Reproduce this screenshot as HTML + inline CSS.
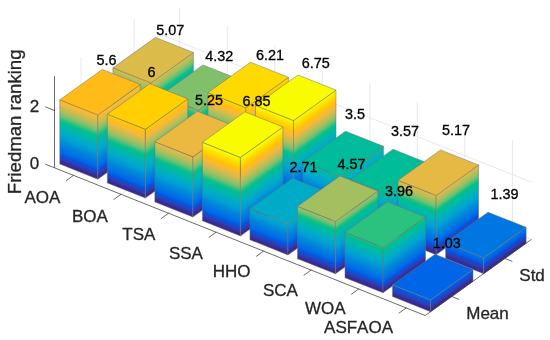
<!DOCTYPE html>
<html><head><meta charset="utf-8"><title>Friedman ranking</title>
<style>html,body{margin:0;padding:0;background:#fff}svg{display:block}text{font-family:'Liberation Sans',Arial,sans-serif;stroke-width:0.3px;font-kerning:none}</style></head>
<body><svg width="550" height="340" viewBox="0 0 550 340">
<defs><linearGradient id="g1" gradientUnits="userSpaceOnUse" x1="112.91" y1="125.95" x2="132.89" y2="75.80"><stop offset="0.0000" stop-color="#36288b"/><stop offset="0.0400" stop-color="#362b92"/><stop offset="0.0800" stop-color="#3338ab"/><stop offset="0.1200" stop-color="#2246c5"/><stop offset="0.1600" stop-color="#0056de"/><stop offset="0.2000" stop-color="#0066e7"/><stop offset="0.2400" stop-color="#006fe6"/><stop offset="0.2800" stop-color="#0077e2"/><stop offset="0.3200" stop-color="#007fdd"/><stop offset="0.3600" stop-color="#0087d9"/><stop offset="0.4000" stop-color="#0090d7"/><stop offset="0.4400" stop-color="#009ad5"/><stop offset="0.4800" stop-color="#00a2d1"/><stop offset="0.5200" stop-color="#00a9ca"/><stop offset="0.5600" stop-color="#00aec1"/><stop offset="0.6000" stop-color="#00b3b7"/><stop offset="0.6400" stop-color="#00b7ac"/><stop offset="0.6800" stop-color="#00bb9f"/><stop offset="0.7200" stop-color="#00be92"/><stop offset="0.7600" stop-color="#17c085"/><stop offset="0.8000" stop-color="#4fc179"/><stop offset="0.8400" stop-color="#77c16e"/><stop offset="0.8800" stop-color="#96c064"/><stop offset="0.9200" stop-color="#afbe5b"/><stop offset="0.9600" stop-color="#c6bd52"/><stop offset="1.0000" stop-color="#dbbb49"/></linearGradient>
<linearGradient id="g2" gradientUnits="userSpaceOnUse" x1="150.93" y1="141.10" x2="123.42" y2="102.71"><stop offset="0.0000" stop-color="#36288b"/><stop offset="0.0400" stop-color="#362b92"/><stop offset="0.0800" stop-color="#3338ab"/><stop offset="0.1200" stop-color="#2246c5"/><stop offset="0.1600" stop-color="#0056de"/><stop offset="0.2000" stop-color="#0066e7"/><stop offset="0.2400" stop-color="#006fe6"/><stop offset="0.2800" stop-color="#0077e2"/><stop offset="0.3200" stop-color="#007fdd"/><stop offset="0.3600" stop-color="#0087d9"/><stop offset="0.4000" stop-color="#0090d7"/><stop offset="0.4400" stop-color="#009ad5"/><stop offset="0.4800" stop-color="#00a2d1"/><stop offset="0.5200" stop-color="#00a9ca"/><stop offset="0.5600" stop-color="#00aec1"/><stop offset="0.6000" stop-color="#00b3b7"/><stop offset="0.6400" stop-color="#00b7ac"/><stop offset="0.6800" stop-color="#00bb9f"/><stop offset="0.7200" stop-color="#00be92"/><stop offset="0.7600" stop-color="#17c085"/><stop offset="0.8000" stop-color="#4fc179"/><stop offset="0.8400" stop-color="#77c16e"/><stop offset="0.8800" stop-color="#96c064"/><stop offset="0.9200" stop-color="#afbe5b"/><stop offset="0.9600" stop-color="#c6bd52"/><stop offset="1.0000" stop-color="#dbbb49"/></linearGradient>
<linearGradient id="g3" gradientUnits="userSpaceOnUse" x1="160.44" y1="144.89" x2="177.46" y2="102.16"><stop offset="0.0000" stop-color="#36288b"/><stop offset="0.0476" stop-color="#362b92"/><stop offset="0.0952" stop-color="#3338ac"/><stop offset="0.1429" stop-color="#2046c6"/><stop offset="0.1905" stop-color="#0057df"/><stop offset="0.2381" stop-color="#0066e7"/><stop offset="0.2857" stop-color="#0070e5"/><stop offset="0.3333" stop-color="#0078e1"/><stop offset="0.3810" stop-color="#0080dc"/><stop offset="0.4286" stop-color="#0088d9"/><stop offset="0.4762" stop-color="#0092d7"/><stop offset="0.5238" stop-color="#009cd5"/><stop offset="0.5714" stop-color="#00a4d0"/><stop offset="0.6190" stop-color="#00aac8"/><stop offset="0.6667" stop-color="#00afbf"/><stop offset="0.7143" stop-color="#00b4b4"/><stop offset="0.7619" stop-color="#00b8a9"/><stop offset="0.8095" stop-color="#00bc9c"/><stop offset="0.8571" stop-color="#00bf8f"/><stop offset="0.9048" stop-color="#1fc081"/><stop offset="0.9524" stop-color="#5dc175"/><stop offset="1.0000" stop-color="#81c06b"/></linearGradient>
<linearGradient id="g4" gradientUnits="userSpaceOnUse" x1="198.46" y1="160.04" x2="175.02" y2="127.33"><stop offset="0.0000" stop-color="#36288b"/><stop offset="0.0476" stop-color="#362b92"/><stop offset="0.0952" stop-color="#3338ac"/><stop offset="0.1429" stop-color="#2046c6"/><stop offset="0.1905" stop-color="#0057df"/><stop offset="0.2381" stop-color="#0066e7"/><stop offset="0.2857" stop-color="#0070e5"/><stop offset="0.3333" stop-color="#0078e1"/><stop offset="0.3810" stop-color="#0080dc"/><stop offset="0.4286" stop-color="#0088d9"/><stop offset="0.4762" stop-color="#0092d7"/><stop offset="0.5238" stop-color="#009cd5"/><stop offset="0.5714" stop-color="#00a4d0"/><stop offset="0.6190" stop-color="#00aac8"/><stop offset="0.6667" stop-color="#00afbf"/><stop offset="0.7143" stop-color="#00b4b4"/><stop offset="0.7619" stop-color="#00b8a9"/><stop offset="0.8095" stop-color="#00bc9c"/><stop offset="0.8571" stop-color="#00bf8f"/><stop offset="0.9048" stop-color="#1fc081"/><stop offset="0.9524" stop-color="#5dc175"/><stop offset="1.0000" stop-color="#81c06b"/></linearGradient>
<linearGradient id="g5" gradientUnits="userSpaceOnUse" x1="207.97" y1="163.83" x2="232.44" y2="102.41"><stop offset="0.0000" stop-color="#36288b"/><stop offset="0.0323" stop-color="#362b92"/><stop offset="0.0645" stop-color="#3338ab"/><stop offset="0.0968" stop-color="#2345c4"/><stop offset="0.1290" stop-color="#0055dd"/><stop offset="0.1613" stop-color="#0065e7"/><stop offset="0.1935" stop-color="#006fe6"/><stop offset="0.2258" stop-color="#0077e2"/><stop offset="0.2581" stop-color="#007edd"/><stop offset="0.2903" stop-color="#0086d9"/><stop offset="0.3226" stop-color="#008fd7"/><stop offset="0.3548" stop-color="#0099d6"/><stop offset="0.3871" stop-color="#00a1d2"/><stop offset="0.4194" stop-color="#00a8cb"/><stop offset="0.4516" stop-color="#00adc2"/><stop offset="0.4839" stop-color="#00b2b9"/><stop offset="0.5161" stop-color="#00b6ae"/><stop offset="0.5484" stop-color="#00baa2"/><stop offset="0.5806" stop-color="#00bd95"/><stop offset="0.6129" stop-color="#0fc088"/><stop offset="0.6452" stop-color="#41c17b"/><stop offset="0.6774" stop-color="#6fc171"/><stop offset="0.7097" stop-color="#8ec067"/><stop offset="0.7419" stop-color="#a8bf5e"/><stop offset="0.7742" stop-color="#bfbd55"/><stop offset="0.8065" stop-color="#d5bb4c"/><stop offset="0.8387" stop-color="#e8ba42"/><stop offset="0.8710" stop-color="#fbb935"/><stop offset="0.9032" stop-color="#ffbb18"/><stop offset="0.9355" stop-color="#ffc50b"/><stop offset="0.9677" stop-color="#ffcf00"/><stop offset="1.0000" stop-color="#feda00"/></linearGradient>
<linearGradient id="g6" gradientUnits="userSpaceOnUse" x1="245.99" y1="178.98" x2="212.30" y2="131.96"><stop offset="0.0000" stop-color="#36288b"/><stop offset="0.0323" stop-color="#362b92"/><stop offset="0.0645" stop-color="#3338ab"/><stop offset="0.0968" stop-color="#2345c4"/><stop offset="0.1290" stop-color="#0055dd"/><stop offset="0.1613" stop-color="#0065e7"/><stop offset="0.1935" stop-color="#006fe6"/><stop offset="0.2258" stop-color="#0077e2"/><stop offset="0.2581" stop-color="#007edd"/><stop offset="0.2903" stop-color="#0086d9"/><stop offset="0.3226" stop-color="#008fd7"/><stop offset="0.3548" stop-color="#0099d6"/><stop offset="0.3871" stop-color="#00a1d2"/><stop offset="0.4194" stop-color="#00a8cb"/><stop offset="0.4516" stop-color="#00adc2"/><stop offset="0.4839" stop-color="#00b2b9"/><stop offset="0.5161" stop-color="#00b6ae"/><stop offset="0.5484" stop-color="#00baa2"/><stop offset="0.5806" stop-color="#00bd95"/><stop offset="0.6129" stop-color="#0fc088"/><stop offset="0.6452" stop-color="#41c17b"/><stop offset="0.6774" stop-color="#6fc171"/><stop offset="0.7097" stop-color="#8ec067"/><stop offset="0.7419" stop-color="#a8bf5e"/><stop offset="0.7742" stop-color="#bfbd55"/><stop offset="0.8065" stop-color="#d5bb4c"/><stop offset="0.8387" stop-color="#e8ba42"/><stop offset="0.8710" stop-color="#fbb935"/><stop offset="0.9032" stop-color="#ffbb18"/><stop offset="0.9355" stop-color="#ffc50b"/><stop offset="0.9677" stop-color="#ffcf00"/><stop offset="1.0000" stop-color="#feda00"/></linearGradient>
<linearGradient id="g7" gradientUnits="userSpaceOnUse" x1="255.50" y1="182.77" x2="282.10" y2="116.01"><stop offset="0.0000" stop-color="#36288b"/><stop offset="0.0303" stop-color="#362b92"/><stop offset="0.0606" stop-color="#3338ac"/><stop offset="0.0909" stop-color="#2146c6"/><stop offset="0.1212" stop-color="#0057de"/><stop offset="0.1515" stop-color="#0066e7"/><stop offset="0.1818" stop-color="#0070e5"/><stop offset="0.2121" stop-color="#0078e1"/><stop offset="0.2424" stop-color="#007fdd"/><stop offset="0.2727" stop-color="#0088d9"/><stop offset="0.3030" stop-color="#0091d7"/><stop offset="0.3333" stop-color="#009bd5"/><stop offset="0.3636" stop-color="#00a3d0"/><stop offset="0.3939" stop-color="#00a9c9"/><stop offset="0.4242" stop-color="#00afc0"/><stop offset="0.4545" stop-color="#00b3b5"/><stop offset="0.4848" stop-color="#00b7aa"/><stop offset="0.5152" stop-color="#00bb9d"/><stop offset="0.5455" stop-color="#00be90"/><stop offset="0.5758" stop-color="#1cc083"/><stop offset="0.6061" stop-color="#57c177"/><stop offset="0.6364" stop-color="#7dc06c"/><stop offset="0.6667" stop-color="#9bbf63"/><stop offset="0.6970" stop-color="#b4be5a"/><stop offset="0.7273" stop-color="#cabc51"/><stop offset="0.7576" stop-color="#dfba47"/><stop offset="0.7879" stop-color="#f3b93b"/><stop offset="0.8182" stop-color="#ffb929"/><stop offset="0.8485" stop-color="#ffc011"/><stop offset="0.8788" stop-color="#ffcb00"/><stop offset="0.9091" stop-color="#ffd600"/><stop offset="0.9394" stop-color="#fbe100"/><stop offset="0.9697" stop-color="#f8ef00"/><stop offset="1.0000" stop-color="#f9fb00"/></linearGradient>
<linearGradient id="g8" gradientUnits="userSpaceOnUse" x1="293.52" y1="197.92" x2="256.90" y2="146.81"><stop offset="0.0000" stop-color="#36288b"/><stop offset="0.0303" stop-color="#362b92"/><stop offset="0.0606" stop-color="#3338ac"/><stop offset="0.0909" stop-color="#2146c6"/><stop offset="0.1212" stop-color="#0057de"/><stop offset="0.1515" stop-color="#0066e7"/><stop offset="0.1818" stop-color="#0070e5"/><stop offset="0.2121" stop-color="#0078e1"/><stop offset="0.2424" stop-color="#007fdd"/><stop offset="0.2727" stop-color="#0088d9"/><stop offset="0.3030" stop-color="#0091d7"/><stop offset="0.3333" stop-color="#009bd5"/><stop offset="0.3636" stop-color="#00a3d0"/><stop offset="0.3939" stop-color="#00a9c9"/><stop offset="0.4242" stop-color="#00afc0"/><stop offset="0.4545" stop-color="#00b3b5"/><stop offset="0.4848" stop-color="#00b7aa"/><stop offset="0.5152" stop-color="#00bb9d"/><stop offset="0.5455" stop-color="#00be90"/><stop offset="0.5758" stop-color="#1cc083"/><stop offset="0.6061" stop-color="#57c177"/><stop offset="0.6364" stop-color="#7dc06c"/><stop offset="0.6667" stop-color="#9bbf63"/><stop offset="0.6970" stop-color="#b4be5a"/><stop offset="0.7273" stop-color="#cabc51"/><stop offset="0.7576" stop-color="#dfba47"/><stop offset="0.7879" stop-color="#f3b93b"/><stop offset="0.8182" stop-color="#ffb929"/><stop offset="0.8485" stop-color="#ffc011"/><stop offset="0.8788" stop-color="#ffcb00"/><stop offset="0.9091" stop-color="#ffd600"/><stop offset="0.9394" stop-color="#fbe100"/><stop offset="0.9697" stop-color="#f8ef00"/><stop offset="1.0000" stop-color="#f9fb00"/></linearGradient>
<linearGradient id="g9" gradientUnits="userSpaceOnUse" x1="303.03" y1="201.71" x2="316.82" y2="167.09"><stop offset="0.0000" stop-color="#36288b"/><stop offset="0.0588" stop-color="#362b92"/><stop offset="0.1176" stop-color="#3238ac"/><stop offset="0.1765" stop-color="#2047c6"/><stop offset="0.2353" stop-color="#0058df"/><stop offset="0.2941" stop-color="#0066e7"/><stop offset="0.3529" stop-color="#0070e5"/><stop offset="0.4118" stop-color="#0078e1"/><stop offset="0.4706" stop-color="#0080dc"/><stop offset="0.5294" stop-color="#0088d9"/><stop offset="0.5882" stop-color="#0092d7"/><stop offset="0.6471" stop-color="#009cd5"/><stop offset="0.7059" stop-color="#00a4d0"/><stop offset="0.7647" stop-color="#00aac8"/><stop offset="0.8235" stop-color="#00afbf"/><stop offset="0.8824" stop-color="#00b4b4"/><stop offset="0.9412" stop-color="#00b8a9"/><stop offset="1.0000" stop-color="#00bc9c"/></linearGradient>
<linearGradient id="g10" gradientUnits="userSpaceOnUse" x1="341.05" y1="216.86" x2="322.06" y2="190.36"><stop offset="0.0000" stop-color="#36288b"/><stop offset="0.0588" stop-color="#362b92"/><stop offset="0.1176" stop-color="#3238ac"/><stop offset="0.1765" stop-color="#2047c6"/><stop offset="0.2353" stop-color="#0058df"/><stop offset="0.2941" stop-color="#0066e7"/><stop offset="0.3529" stop-color="#0070e5"/><stop offset="0.4118" stop-color="#0078e1"/><stop offset="0.4706" stop-color="#0080dc"/><stop offset="0.5294" stop-color="#0088d9"/><stop offset="0.5882" stop-color="#0092d7"/><stop offset="0.6471" stop-color="#009cd5"/><stop offset="0.7059" stop-color="#00a4d0"/><stop offset="0.7647" stop-color="#00aac8"/><stop offset="0.8235" stop-color="#00afbf"/><stop offset="0.8824" stop-color="#00b4b4"/><stop offset="0.9412" stop-color="#00b8a9"/><stop offset="1.0000" stop-color="#00bc9c"/></linearGradient>
<linearGradient id="g11" gradientUnits="userSpaceOnUse" x1="350.56" y1="220.65" x2="364.63" y2="185.34"><stop offset="0.0000" stop-color="#36288b"/><stop offset="0.0588" stop-color="#362c93"/><stop offset="0.1176" stop-color="#3239ad"/><stop offset="0.1765" stop-color="#1e47c8"/><stop offset="0.2353" stop-color="#0059e0"/><stop offset="0.2941" stop-color="#0067e7"/><stop offset="0.3529" stop-color="#0071e5"/><stop offset="0.4118" stop-color="#0079e1"/><stop offset="0.4706" stop-color="#0081dc"/><stop offset="0.5294" stop-color="#008ad8"/><stop offset="0.5882" stop-color="#0094d6"/><stop offset="0.6471" stop-color="#009ed4"/><stop offset="0.7059" stop-color="#00a5ce"/><stop offset="0.7647" stop-color="#00abc6"/><stop offset="0.8235" stop-color="#00b0bc"/><stop offset="0.8824" stop-color="#00b5b1"/><stop offset="0.9412" stop-color="#00b9a5"/><stop offset="1.0000" stop-color="#00bd97"/></linearGradient>
<linearGradient id="g12" gradientUnits="userSpaceOnUse" x1="388.58" y1="235.80" x2="369.21" y2="208.77"><stop offset="0.0000" stop-color="#36288b"/><stop offset="0.0588" stop-color="#362c93"/><stop offset="0.1176" stop-color="#3239ad"/><stop offset="0.1765" stop-color="#1e47c8"/><stop offset="0.2353" stop-color="#0059e0"/><stop offset="0.2941" stop-color="#0067e7"/><stop offset="0.3529" stop-color="#0071e5"/><stop offset="0.4118" stop-color="#0079e1"/><stop offset="0.4706" stop-color="#0081dc"/><stop offset="0.5294" stop-color="#008ad8"/><stop offset="0.5882" stop-color="#0094d6"/><stop offset="0.6471" stop-color="#009ed4"/><stop offset="0.7059" stop-color="#00a5ce"/><stop offset="0.7647" stop-color="#00abc6"/><stop offset="0.8235" stop-color="#00b0bc"/><stop offset="0.8824" stop-color="#00b5b1"/><stop offset="0.9412" stop-color="#00b9a5"/><stop offset="1.0000" stop-color="#00bd97"/></linearGradient>
<linearGradient id="g13" gradientUnits="userSpaceOnUse" x1="398.09" y1="239.59" x2="418.46" y2="188.46"><stop offset="0.0000" stop-color="#36288b"/><stop offset="0.0400" stop-color="#362b92"/><stop offset="0.0800" stop-color="#3239ac"/><stop offset="0.1200" stop-color="#1f47c7"/><stop offset="0.1600" stop-color="#0058df"/><stop offset="0.2000" stop-color="#0067e7"/><stop offset="0.2400" stop-color="#0070e5"/><stop offset="0.2800" stop-color="#0078e1"/><stop offset="0.3200" stop-color="#0080dc"/><stop offset="0.3600" stop-color="#0088d8"/><stop offset="0.4000" stop-color="#0092d7"/><stop offset="0.4400" stop-color="#009cd5"/><stop offset="0.4800" stop-color="#00a4cf"/><stop offset="0.5200" stop-color="#00aac7"/><stop offset="0.5600" stop-color="#00afbe"/><stop offset="0.6000" stop-color="#00b4b4"/><stop offset="0.6400" stop-color="#00b8a8"/><stop offset="0.6800" stop-color="#00bc9b"/><stop offset="0.7200" stop-color="#00bf8d"/><stop offset="0.7600" stop-color="#22c080"/><stop offset="0.8000" stop-color="#61c174"/><stop offset="0.8400" stop-color="#85c06a"/><stop offset="0.8800" stop-color="#a1bf60"/><stop offset="0.9200" stop-color="#babe57"/><stop offset="0.9600" stop-color="#d0bc4e"/><stop offset="1.0000" stop-color="#e5ba44"/></linearGradient>
<linearGradient id="g14" gradientUnits="userSpaceOnUse" x1="436.11" y1="254.74" x2="408.06" y2="215.59"><stop offset="0.0000" stop-color="#36288b"/><stop offset="0.0400" stop-color="#362b92"/><stop offset="0.0800" stop-color="#3239ac"/><stop offset="0.1200" stop-color="#1f47c7"/><stop offset="0.1600" stop-color="#0058df"/><stop offset="0.2000" stop-color="#0067e7"/><stop offset="0.2400" stop-color="#0070e5"/><stop offset="0.2800" stop-color="#0078e1"/><stop offset="0.3200" stop-color="#0080dc"/><stop offset="0.3600" stop-color="#0088d8"/><stop offset="0.4000" stop-color="#0092d7"/><stop offset="0.4400" stop-color="#009cd5"/><stop offset="0.4800" stop-color="#00a4cf"/><stop offset="0.5200" stop-color="#00aac7"/><stop offset="0.5600" stop-color="#00afbe"/><stop offset="0.6000" stop-color="#00b4b4"/><stop offset="0.6400" stop-color="#00b8a8"/><stop offset="0.6800" stop-color="#00bc9b"/><stop offset="0.7200" stop-color="#00bf8d"/><stop offset="0.7600" stop-color="#22c080"/><stop offset="0.8000" stop-color="#61c174"/><stop offset="0.8400" stop-color="#85c06a"/><stop offset="0.8800" stop-color="#a1bf60"/><stop offset="0.9200" stop-color="#babe57"/><stop offset="0.9600" stop-color="#d0bc4e"/><stop offset="1.0000" stop-color="#e5ba44"/></linearGradient>
<linearGradient id="g15" gradientUnits="userSpaceOnUse" x1="445.62" y1="258.53" x2="451.10" y2="244.78"><stop offset="0.0000" stop-color="#36288b"/><stop offset="0.1667" stop-color="#362d95"/><stop offset="0.3333" stop-color="#303cb2"/><stop offset="0.5000" stop-color="#0d4cd0"/><stop offset="0.6667" stop-color="#0060e5"/><stop offset="0.8333" stop-color="#006de7"/><stop offset="1.0000" stop-color="#0076e2"/></linearGradient>
<linearGradient id="g16" gradientUnits="userSpaceOnUse" x1="483.64" y1="273.68" x2="476.10" y2="263.15"><stop offset="0.0000" stop-color="#36288b"/><stop offset="0.1667" stop-color="#362d95"/><stop offset="0.3333" stop-color="#303cb2"/><stop offset="0.5000" stop-color="#0d4cd0"/><stop offset="0.6667" stop-color="#0060e5"/><stop offset="0.8333" stop-color="#006de7"/><stop offset="1.0000" stop-color="#0076e2"/></linearGradient>
<linearGradient id="g17" gradientUnits="userSpaceOnUse" x1="59.81" y1="164.00" x2="81.88" y2="108.61"><stop offset="0.0000" stop-color="#36288b"/><stop offset="0.0357" stop-color="#362b92"/><stop offset="0.0714" stop-color="#3338aa"/><stop offset="0.1071" stop-color="#2345c4"/><stop offset="0.1429" stop-color="#0055dd"/><stop offset="0.1786" stop-color="#0065e7"/><stop offset="0.2143" stop-color="#006ee6"/><stop offset="0.2500" stop-color="#0077e2"/><stop offset="0.2857" stop-color="#007ede"/><stop offset="0.3214" stop-color="#0086d9"/><stop offset="0.3571" stop-color="#008fd7"/><stop offset="0.3929" stop-color="#0099d6"/><stop offset="0.4286" stop-color="#00a1d2"/><stop offset="0.4643" stop-color="#00a8cb"/><stop offset="0.5000" stop-color="#00adc3"/><stop offset="0.5357" stop-color="#00b2b9"/><stop offset="0.5714" stop-color="#00b6ae"/><stop offset="0.6071" stop-color="#00baa2"/><stop offset="0.6429" stop-color="#00bd95"/><stop offset="0.6786" stop-color="#0dc088"/><stop offset="0.7143" stop-color="#3ec17c"/><stop offset="0.7500" stop-color="#6dc171"/><stop offset="0.7857" stop-color="#8dc067"/><stop offset="0.8214" stop-color="#a7bf5e"/><stop offset="0.8571" stop-color="#bfbd55"/><stop offset="0.8929" stop-color="#d4bb4c"/><stop offset="0.9286" stop-color="#e8ba42"/><stop offset="0.9643" stop-color="#fab936"/><stop offset="1.0000" stop-color="#ffbb18"/></linearGradient>
<linearGradient id="g18" gradientUnits="userSpaceOnUse" x1="97.83" y1="179.15" x2="67.45" y2="136.74"><stop offset="0.0000" stop-color="#36288b"/><stop offset="0.0357" stop-color="#362b92"/><stop offset="0.0714" stop-color="#3338aa"/><stop offset="0.1071" stop-color="#2345c4"/><stop offset="0.1429" stop-color="#0055dd"/><stop offset="0.1786" stop-color="#0065e7"/><stop offset="0.2143" stop-color="#006ee6"/><stop offset="0.2500" stop-color="#0077e2"/><stop offset="0.2857" stop-color="#007ede"/><stop offset="0.3214" stop-color="#0086d9"/><stop offset="0.3571" stop-color="#008fd7"/><stop offset="0.3929" stop-color="#0099d6"/><stop offset="0.4286" stop-color="#00a1d2"/><stop offset="0.4643" stop-color="#00a8cb"/><stop offset="0.5000" stop-color="#00adc3"/><stop offset="0.5357" stop-color="#00b2b9"/><stop offset="0.5714" stop-color="#00b6ae"/><stop offset="0.6071" stop-color="#00baa2"/><stop offset="0.6429" stop-color="#00bd95"/><stop offset="0.6786" stop-color="#0dc088"/><stop offset="0.7143" stop-color="#3ec17c"/><stop offset="0.7500" stop-color="#6dc171"/><stop offset="0.7857" stop-color="#8dc067"/><stop offset="0.8214" stop-color="#a7bf5e"/><stop offset="0.8571" stop-color="#bfbd55"/><stop offset="0.8929" stop-color="#d4bb4c"/><stop offset="0.9286" stop-color="#e8ba42"/><stop offset="0.9643" stop-color="#fab936"/><stop offset="1.0000" stop-color="#ffbb18"/></linearGradient>
<linearGradient id="g19" gradientUnits="userSpaceOnUse" x1="107.34" y1="182.94" x2="130.99" y2="123.60"><stop offset="0.0000" stop-color="#36288b"/><stop offset="0.0333" stop-color="#362b92"/><stop offset="0.0667" stop-color="#3338aa"/><stop offset="0.1000" stop-color="#2345c4"/><stop offset="0.1333" stop-color="#0055dd"/><stop offset="0.1667" stop-color="#0065e7"/><stop offset="0.2000" stop-color="#006ee6"/><stop offset="0.2333" stop-color="#0077e2"/><stop offset="0.2667" stop-color="#007ede"/><stop offset="0.3000" stop-color="#0086d9"/><stop offset="0.3333" stop-color="#008fd7"/><stop offset="0.3667" stop-color="#0099d6"/><stop offset="0.4000" stop-color="#00a1d2"/><stop offset="0.4333" stop-color="#00a8cb"/><stop offset="0.4667" stop-color="#00adc3"/><stop offset="0.5000" stop-color="#00b2b9"/><stop offset="0.5333" stop-color="#00b6ae"/><stop offset="0.5667" stop-color="#00baa2"/><stop offset="0.6000" stop-color="#00bd95"/><stop offset="0.6333" stop-color="#0dc088"/><stop offset="0.6667" stop-color="#3ec17c"/><stop offset="0.7000" stop-color="#6dc171"/><stop offset="0.7333" stop-color="#8dc067"/><stop offset="0.7667" stop-color="#a7bf5e"/><stop offset="0.8000" stop-color="#bfbd55"/><stop offset="0.8333" stop-color="#d4bb4c"/><stop offset="0.8667" stop-color="#e8ba42"/><stop offset="0.9000" stop-color="#fab936"/><stop offset="0.9333" stop-color="#ffbb18"/><stop offset="0.9667" stop-color="#ffc40c"/><stop offset="1.0000" stop-color="#ffcf00"/></linearGradient>
<linearGradient id="g20" gradientUnits="userSpaceOnUse" x1="145.36" y1="198.09" x2="112.81" y2="152.66"><stop offset="0.0000" stop-color="#36288b"/><stop offset="0.0333" stop-color="#362b92"/><stop offset="0.0667" stop-color="#3338aa"/><stop offset="0.1000" stop-color="#2345c4"/><stop offset="0.1333" stop-color="#0055dd"/><stop offset="0.1667" stop-color="#0065e7"/><stop offset="0.2000" stop-color="#006ee6"/><stop offset="0.2333" stop-color="#0077e2"/><stop offset="0.2667" stop-color="#007ede"/><stop offset="0.3000" stop-color="#0086d9"/><stop offset="0.3333" stop-color="#008fd7"/><stop offset="0.3667" stop-color="#0099d6"/><stop offset="0.4000" stop-color="#00a1d2"/><stop offset="0.4333" stop-color="#00a8cb"/><stop offset="0.4667" stop-color="#00adc3"/><stop offset="0.5000" stop-color="#00b2b9"/><stop offset="0.5333" stop-color="#00b6ae"/><stop offset="0.5667" stop-color="#00baa2"/><stop offset="0.6000" stop-color="#00bd95"/><stop offset="0.6333" stop-color="#0dc088"/><stop offset="0.6667" stop-color="#3ec17c"/><stop offset="0.7000" stop-color="#6dc171"/><stop offset="0.7333" stop-color="#8dc067"/><stop offset="0.7667" stop-color="#a7bf5e"/><stop offset="0.8000" stop-color="#bfbd55"/><stop offset="0.8333" stop-color="#d4bb4c"/><stop offset="0.8667" stop-color="#e8ba42"/><stop offset="0.9000" stop-color="#fab936"/><stop offset="0.9333" stop-color="#ffbb18"/><stop offset="0.9667" stop-color="#ffc40c"/><stop offset="1.0000" stop-color="#ffcf00"/></linearGradient>
<linearGradient id="g21" gradientUnits="userSpaceOnUse" x1="154.87" y1="201.88" x2="175.56" y2="149.95"><stop offset="0.0000" stop-color="#36288b"/><stop offset="0.0385" stop-color="#362b92"/><stop offset="0.0769" stop-color="#3338ab"/><stop offset="0.1154" stop-color="#2246c5"/><stop offset="0.1538" stop-color="#0056dd"/><stop offset="0.1923" stop-color="#0065e7"/><stop offset="0.2308" stop-color="#006fe6"/><stop offset="0.2692" stop-color="#0077e2"/><stop offset="0.3077" stop-color="#007fdd"/><stop offset="0.3462" stop-color="#0087d9"/><stop offset="0.3846" stop-color="#0090d7"/><stop offset="0.4231" stop-color="#009ad5"/><stop offset="0.4615" stop-color="#00a2d1"/><stop offset="0.5000" stop-color="#00a8ca"/><stop offset="0.5385" stop-color="#00aec1"/><stop offset="0.5769" stop-color="#00b2b7"/><stop offset="0.6154" stop-color="#00b7ac"/><stop offset="0.6538" stop-color="#00baa0"/><stop offset="0.6923" stop-color="#00be93"/><stop offset="0.7308" stop-color="#15c086"/><stop offset="0.7692" stop-color="#4ac17a"/><stop offset="0.8077" stop-color="#74c16f"/><stop offset="0.8462" stop-color="#93c065"/><stop offset="0.8846" stop-color="#adbe5c"/><stop offset="0.9231" stop-color="#c4bd53"/><stop offset="0.9615" stop-color="#d9bb4a"/><stop offset="1.0000" stop-color="#ecb940"/></linearGradient>
<linearGradient id="g22" gradientUnits="userSpaceOnUse" x1="192.89" y1="217.03" x2="164.41" y2="177.27"><stop offset="0.0000" stop-color="#36288b"/><stop offset="0.0385" stop-color="#362b92"/><stop offset="0.0769" stop-color="#3338ab"/><stop offset="0.1154" stop-color="#2246c5"/><stop offset="0.1538" stop-color="#0056dd"/><stop offset="0.1923" stop-color="#0065e7"/><stop offset="0.2308" stop-color="#006fe6"/><stop offset="0.2692" stop-color="#0077e2"/><stop offset="0.3077" stop-color="#007fdd"/><stop offset="0.3462" stop-color="#0087d9"/><stop offset="0.3846" stop-color="#0090d7"/><stop offset="0.4231" stop-color="#009ad5"/><stop offset="0.4615" stop-color="#00a2d1"/><stop offset="0.5000" stop-color="#00a8ca"/><stop offset="0.5385" stop-color="#00aec1"/><stop offset="0.5769" stop-color="#00b2b7"/><stop offset="0.6154" stop-color="#00b7ac"/><stop offset="0.6538" stop-color="#00baa0"/><stop offset="0.6923" stop-color="#00be93"/><stop offset="0.7308" stop-color="#15c086"/><stop offset="0.7692" stop-color="#4ac17a"/><stop offset="0.8077" stop-color="#74c16f"/><stop offset="0.8462" stop-color="#93c065"/><stop offset="0.8846" stop-color="#adbe5c"/><stop offset="0.9231" stop-color="#c4bd53"/><stop offset="0.9615" stop-color="#d9bb4a"/><stop offset="1.0000" stop-color="#ecb940"/></linearGradient>
<linearGradient id="g23" gradientUnits="userSpaceOnUse" x1="202.40" y1="220.81" x2="229.39" y2="153.07"><stop offset="0.0000" stop-color="#36288b"/><stop offset="0.0294" stop-color="#362b92"/><stop offset="0.0588" stop-color="#3338ab"/><stop offset="0.0882" stop-color="#2246c4"/><stop offset="0.1176" stop-color="#0056dd"/><stop offset="0.1471" stop-color="#0065e7"/><stop offset="0.1765" stop-color="#006fe6"/><stop offset="0.2059" stop-color="#0077e2"/><stop offset="0.2353" stop-color="#007edd"/><stop offset="0.2647" stop-color="#0086d9"/><stop offset="0.2941" stop-color="#0090d7"/><stop offset="0.3235" stop-color="#009ad6"/><stop offset="0.3529" stop-color="#00a2d1"/><stop offset="0.3824" stop-color="#00a8ca"/><stop offset="0.4118" stop-color="#00adc2"/><stop offset="0.4412" stop-color="#00b2b8"/><stop offset="0.4706" stop-color="#00b6ad"/><stop offset="0.5000" stop-color="#00baa1"/><stop offset="0.5294" stop-color="#00bd94"/><stop offset="0.5588" stop-color="#13c086"/><stop offset="0.5882" stop-color="#48c17a"/><stop offset="0.6176" stop-color="#73c16f"/><stop offset="0.6471" stop-color="#92c066"/><stop offset="0.6765" stop-color="#abbf5d"/><stop offset="0.7059" stop-color="#c2bd54"/><stop offset="0.7353" stop-color="#d8bb4b"/><stop offset="0.7647" stop-color="#ebb940"/><stop offset="0.7941" stop-color="#fdb832"/><stop offset="0.8235" stop-color="#ffbd16"/><stop offset="0.8529" stop-color="#ffc609"/><stop offset="0.8824" stop-color="#ffd100"/><stop offset="0.9118" stop-color="#fddc00"/><stop offset="0.9412" stop-color="#f8e800"/><stop offset="0.9706" stop-color="#f8f700"/><stop offset="1.0000" stop-color="#f9fb00"/></linearGradient>
<linearGradient id="g24" gradientUnits="userSpaceOnUse" x1="240.42" y1="235.97" x2="203.26" y2="184.10"><stop offset="0.0000" stop-color="#36288b"/><stop offset="0.0294" stop-color="#362b92"/><stop offset="0.0588" stop-color="#3338ab"/><stop offset="0.0882" stop-color="#2246c4"/><stop offset="0.1176" stop-color="#0056dd"/><stop offset="0.1471" stop-color="#0065e7"/><stop offset="0.1765" stop-color="#006fe6"/><stop offset="0.2059" stop-color="#0077e2"/><stop offset="0.2353" stop-color="#007edd"/><stop offset="0.2647" stop-color="#0086d9"/><stop offset="0.2941" stop-color="#0090d7"/><stop offset="0.3235" stop-color="#009ad6"/><stop offset="0.3529" stop-color="#00a2d1"/><stop offset="0.3824" stop-color="#00a8ca"/><stop offset="0.4118" stop-color="#00adc2"/><stop offset="0.4412" stop-color="#00b2b8"/><stop offset="0.4706" stop-color="#00b6ad"/><stop offset="0.5000" stop-color="#00baa1"/><stop offset="0.5294" stop-color="#00bd94"/><stop offset="0.5588" stop-color="#13c086"/><stop offset="0.5882" stop-color="#48c17a"/><stop offset="0.6176" stop-color="#73c16f"/><stop offset="0.6471" stop-color="#92c066"/><stop offset="0.6765" stop-color="#abbf5d"/><stop offset="0.7059" stop-color="#c2bd54"/><stop offset="0.7353" stop-color="#d8bb4b"/><stop offset="0.7647" stop-color="#ebb940"/><stop offset="0.7941" stop-color="#fdb832"/><stop offset="0.8235" stop-color="#ffbd16"/><stop offset="0.8529" stop-color="#ffc609"/><stop offset="0.8824" stop-color="#ffd100"/><stop offset="0.9118" stop-color="#fddc00"/><stop offset="0.9412" stop-color="#f8e800"/><stop offset="0.9706" stop-color="#f8f700"/><stop offset="1.0000" stop-color="#f9fb00"/></linearGradient>
<linearGradient id="g25" gradientUnits="userSpaceOnUse" x1="249.93" y1="239.75" x2="260.61" y2="212.95"><stop offset="0.0000" stop-color="#36288b"/><stop offset="0.0769" stop-color="#362c93"/><stop offset="0.1538" stop-color="#3239ad"/><stop offset="0.2308" stop-color="#1f47c7"/><stop offset="0.3077" stop-color="#0058e0"/><stop offset="0.3846" stop-color="#0067e7"/><stop offset="0.4615" stop-color="#0071e5"/><stop offset="0.5385" stop-color="#0079e1"/><stop offset="0.6154" stop-color="#0081dc"/><stop offset="0.6923" stop-color="#0089d8"/><stop offset="0.7692" stop-color="#0093d7"/><stop offset="0.8462" stop-color="#009dd4"/><stop offset="0.9231" stop-color="#00a5cf"/><stop offset="1.0000" stop-color="#00abc7"/></linearGradient>
<linearGradient id="g26" gradientUnits="userSpaceOnUse" x1="287.95" y1="254.91" x2="273.25" y2="234.39"><stop offset="0.0000" stop-color="#36288b"/><stop offset="0.0769" stop-color="#362c93"/><stop offset="0.1538" stop-color="#3239ad"/><stop offset="0.2308" stop-color="#1f47c7"/><stop offset="0.3077" stop-color="#0058e0"/><stop offset="0.3846" stop-color="#0067e7"/><stop offset="0.4615" stop-color="#0071e5"/><stop offset="0.5385" stop-color="#0079e1"/><stop offset="0.6154" stop-color="#0081dc"/><stop offset="0.6923" stop-color="#0089d8"/><stop offset="0.7692" stop-color="#0093d7"/><stop offset="0.8462" stop-color="#009dd4"/><stop offset="0.9231" stop-color="#00a5cf"/><stop offset="1.0000" stop-color="#00abc7"/></linearGradient>
<linearGradient id="g27" gradientUnits="userSpaceOnUse" x1="297.46" y1="258.69" x2="315.47" y2="213.50"><stop offset="0.0000" stop-color="#36288b"/><stop offset="0.0455" stop-color="#362c93"/><stop offset="0.0909" stop-color="#3239ac"/><stop offset="0.1364" stop-color="#1f47c7"/><stop offset="0.1818" stop-color="#0058df"/><stop offset="0.2273" stop-color="#0067e7"/><stop offset="0.2727" stop-color="#0070e5"/><stop offset="0.3182" stop-color="#0079e1"/><stop offset="0.3636" stop-color="#0080dc"/><stop offset="0.4091" stop-color="#0089d8"/><stop offset="0.4545" stop-color="#0093d7"/><stop offset="0.5000" stop-color="#009dd4"/><stop offset="0.5455" stop-color="#00a4cf"/><stop offset="0.5909" stop-color="#00aac7"/><stop offset="0.6364" stop-color="#00b0be"/><stop offset="0.6818" stop-color="#00b4b3"/><stop offset="0.7273" stop-color="#00b8a7"/><stop offset="0.7727" stop-color="#00bc9a"/><stop offset="0.8182" stop-color="#00bf8c"/><stop offset="0.8636" stop-color="#24c07f"/><stop offset="0.9091" stop-color="#65c173"/><stop offset="0.9545" stop-color="#88c069"/><stop offset="1.0000" stop-color="#a4bf60"/></linearGradient>
<linearGradient id="g28" gradientUnits="userSpaceOnUse" x1="335.48" y1="273.85" x2="310.69" y2="239.24"><stop offset="0.0000" stop-color="#36288b"/><stop offset="0.0455" stop-color="#362c93"/><stop offset="0.0909" stop-color="#3239ac"/><stop offset="0.1364" stop-color="#1f47c7"/><stop offset="0.1818" stop-color="#0058df"/><stop offset="0.2273" stop-color="#0067e7"/><stop offset="0.2727" stop-color="#0070e5"/><stop offset="0.3182" stop-color="#0079e1"/><stop offset="0.3636" stop-color="#0080dc"/><stop offset="0.4091" stop-color="#0089d8"/><stop offset="0.4545" stop-color="#0093d7"/><stop offset="0.5000" stop-color="#009dd4"/><stop offset="0.5455" stop-color="#00a4cf"/><stop offset="0.5909" stop-color="#00aac7"/><stop offset="0.6364" stop-color="#00b0be"/><stop offset="0.6818" stop-color="#00b4b3"/><stop offset="0.7273" stop-color="#00b8a7"/><stop offset="0.7727" stop-color="#00bc9a"/><stop offset="0.8182" stop-color="#00bf8c"/><stop offset="0.8636" stop-color="#24c07f"/><stop offset="0.9091" stop-color="#65c173"/><stop offset="0.9545" stop-color="#88c069"/><stop offset="1.0000" stop-color="#a4bf60"/></linearGradient>
<linearGradient id="g29" gradientUnits="userSpaceOnUse" x1="344.99" y1="277.63" x2="360.60" y2="238.47"><stop offset="0.0000" stop-color="#36288b"/><stop offset="0.0526" stop-color="#362c93"/><stop offset="0.1053" stop-color="#3239ad"/><stop offset="0.1579" stop-color="#1f47c7"/><stop offset="0.2105" stop-color="#0058e0"/><stop offset="0.2632" stop-color="#0067e7"/><stop offset="0.3158" stop-color="#0071e5"/><stop offset="0.3684" stop-color="#0079e1"/><stop offset="0.4211" stop-color="#0081dc"/><stop offset="0.4737" stop-color="#0089d8"/><stop offset="0.5263" stop-color="#0093d7"/><stop offset="0.5789" stop-color="#009dd4"/><stop offset="0.6316" stop-color="#00a5cf"/><stop offset="0.6842" stop-color="#00abc7"/><stop offset="0.7368" stop-color="#00b0bd"/><stop offset="0.7895" stop-color="#00b4b2"/><stop offset="0.8421" stop-color="#00b9a6"/><stop offset="0.8947" stop-color="#00bc99"/><stop offset="0.9474" stop-color="#00bf8b"/><stop offset="1.0000" stop-color="#2bc17e"/></linearGradient>
<linearGradient id="g30" gradientUnits="userSpaceOnUse" x1="383.01" y1="292.79" x2="361.53" y2="262.80"><stop offset="0.0000" stop-color="#36288b"/><stop offset="0.0526" stop-color="#362c93"/><stop offset="0.1053" stop-color="#3239ad"/><stop offset="0.1579" stop-color="#1f47c7"/><stop offset="0.2105" stop-color="#0058e0"/><stop offset="0.2632" stop-color="#0067e7"/><stop offset="0.3158" stop-color="#0071e5"/><stop offset="0.3684" stop-color="#0079e1"/><stop offset="0.4211" stop-color="#0081dc"/><stop offset="0.4737" stop-color="#0089d8"/><stop offset="0.5263" stop-color="#0093d7"/><stop offset="0.5789" stop-color="#009dd4"/><stop offset="0.6316" stop-color="#00a5cf"/><stop offset="0.6842" stop-color="#00abc7"/><stop offset="0.7368" stop-color="#00b0bd"/><stop offset="0.7895" stop-color="#00b4b2"/><stop offset="0.8421" stop-color="#00b9a6"/><stop offset="0.8947" stop-color="#00bc99"/><stop offset="0.9474" stop-color="#00bf8b"/><stop offset="1.0000" stop-color="#2bc17e"/></linearGradient>
<linearGradient id="g31" gradientUnits="userSpaceOnUse" x1="392.52" y1="296.58" x2="396.58" y2="286.39"><stop offset="0.0000" stop-color="#36288b"/><stop offset="0.2000" stop-color="#362b92"/><stop offset="0.4000" stop-color="#3239ac"/><stop offset="0.6000" stop-color="#2047c6"/><stop offset="0.8000" stop-color="#0058df"/><stop offset="1.0000" stop-color="#0066e7"/></linearGradient>
<linearGradient id="g32" gradientUnits="userSpaceOnUse" x1="430.54" y1="311.73" x2="424.96" y2="303.93"><stop offset="0.0000" stop-color="#36288b"/><stop offset="0.2000" stop-color="#362b92"/><stop offset="0.4000" stop-color="#3239ac"/><stop offset="0.6000" stop-color="#2047c6"/><stop offset="0.8000" stop-color="#0058df"/><stop offset="1.0000" stop-color="#0066e7"/></linearGradient></defs>
<rect width="550" height="340" fill="#fff"/>
<line x1="81.05" y1="148.78" x2="81.05" y2="57.09" stroke="#e2e2e2" stroke-width="0.8"/>
<line x1="81.05" y1="148.78" x2="451.78" y2="296.51" stroke="#e2e2e2" stroke-width="0.8"/>
<line x1="134.15" y1="110.73" x2="134.15" y2="19.05" stroke="#e2e2e2" stroke-width="0.8"/>
<line x1="134.15" y1="110.73" x2="504.88" y2="258.46" stroke="#e2e2e2" stroke-width="0.8"/>
<line x1="54.50" y1="167.80" x2="160.70" y2="91.70" stroke="#e2e2e2" stroke-width="0.8"/>
<line x1="160.70" y1="91.70" x2="531.43" y2="239.43" stroke="#e2e2e2" stroke-width="0.8"/>
<line x1="54.50" y1="110.50" x2="160.70" y2="34.40" stroke="#e2e2e2" stroke-width="0.8"/>
<line x1="160.70" y1="34.40" x2="531.43" y2="182.13" stroke="#e2e2e2" stroke-width="0.8"/>
<line x1="179.71" y1="99.28" x2="179.71" y2="7.60" stroke="#e2e2e2" stroke-width="0.8"/>
<line x1="73.51" y1="175.38" x2="179.71" y2="99.28" stroke="#e2e2e2" stroke-width="0.8"/>
<line x1="227.24" y1="118.22" x2="227.24" y2="26.54" stroke="#e2e2e2" stroke-width="0.8"/>
<line x1="121.04" y1="194.32" x2="227.24" y2="118.22" stroke="#e2e2e2" stroke-width="0.8"/>
<line x1="274.77" y1="137.16" x2="274.77" y2="45.48" stroke="#e2e2e2" stroke-width="0.8"/>
<line x1="168.57" y1="213.26" x2="274.77" y2="137.16" stroke="#e2e2e2" stroke-width="0.8"/>
<line x1="322.30" y1="156.10" x2="322.30" y2="64.42" stroke="#e2e2e2" stroke-width="0.8"/>
<line x1="216.10" y1="232.20" x2="322.30" y2="156.10" stroke="#e2e2e2" stroke-width="0.8"/>
<line x1="369.83" y1="175.04" x2="369.83" y2="83.36" stroke="#e2e2e2" stroke-width="0.8"/>
<line x1="263.63" y1="251.14" x2="369.83" y2="175.04" stroke="#e2e2e2" stroke-width="0.8"/>
<line x1="417.36" y1="193.98" x2="417.36" y2="102.30" stroke="#e2e2e2" stroke-width="0.8"/>
<line x1="311.16" y1="270.08" x2="417.36" y2="193.98" stroke="#e2e2e2" stroke-width="0.8"/>
<line x1="464.89" y1="212.92" x2="464.89" y2="121.24" stroke="#e2e2e2" stroke-width="0.8"/>
<line x1="358.69" y1="289.02" x2="464.89" y2="212.92" stroke="#e2e2e2" stroke-width="0.8"/>
<line x1="512.42" y1="231.86" x2="512.42" y2="140.18" stroke="#e2e2e2" stroke-width="0.8"/>
<line x1="406.22" y1="307.96" x2="512.42" y2="231.86" stroke="#e2e2e2" stroke-width="0.8"/>
<polygon points="112.91,125.95 150.93,141.10 150.93,82.99 112.91,67.84" fill="url(#g1)" stroke="#707070" stroke-width="0.5" stroke-linejoin="round"/>
<polygon points="150.93,141.10 193.41,110.66 193.41,52.55 150.93,82.99" fill="url(#g2)" stroke="#707070" stroke-width="0.5" stroke-linejoin="round"/>
<polygon points="112.91,67.84 150.93,82.99 193.41,52.55 155.39,37.40" fill="#dbbb49" stroke="#707070" stroke-width="0.5" stroke-linejoin="round"/>
<polygon points="160.44,144.89 198.46,160.04 198.46,110.53 160.44,95.38" fill="url(#g3)" stroke="#707070" stroke-width="0.5" stroke-linejoin="round"/>
<polygon points="198.46,160.04 240.94,129.60 240.94,80.09 198.46,110.53" fill="url(#g4)" stroke="#707070" stroke-width="0.5" stroke-linejoin="round"/>
<polygon points="160.44,95.38 198.46,110.53 240.94,80.09 202.92,64.94" fill="#81c06b" stroke="#707070" stroke-width="0.5" stroke-linejoin="round"/>
<polygon points="207.97,163.83 245.99,178.98 245.99,107.81 207.97,92.66" fill="url(#g5)" stroke="#707070" stroke-width="0.5" stroke-linejoin="round"/>
<polygon points="245.99,178.98 288.47,148.54 288.47,77.37 245.99,107.81" fill="url(#g6)" stroke="#707070" stroke-width="0.5" stroke-linejoin="round"/>
<polygon points="207.97,92.66 245.99,107.81 288.47,77.37 250.45,62.22" fill="#feda00" stroke="#707070" stroke-width="0.5" stroke-linejoin="round"/>
<polygon points="255.50,182.77 293.52,197.92 293.52,120.56 255.50,105.41" fill="url(#g7)" stroke="#707070" stroke-width="0.5" stroke-linejoin="round"/>
<polygon points="293.52,197.92 336.00,167.48 336.00,90.12 293.52,120.56" fill="url(#g8)" stroke="#707070" stroke-width="0.5" stroke-linejoin="round"/>
<polygon points="255.50,105.41 293.52,120.56 336.00,90.12 297.98,74.97" fill="#f9fb00" stroke="#707070" stroke-width="0.5" stroke-linejoin="round"/>
<polygon points="303.03,201.71 341.05,216.86 341.05,176.75 303.03,161.60" fill="url(#g9)" stroke="#707070" stroke-width="0.5" stroke-linejoin="round"/>
<polygon points="341.05,216.86 383.53,186.42 383.53,146.31 341.05,176.75" fill="url(#g10)" stroke="#707070" stroke-width="0.5" stroke-linejoin="round"/>
<polygon points="303.03,161.60 341.05,176.75 383.53,146.31 345.51,131.16" fill="#00bc9c" stroke="#707070" stroke-width="0.5" stroke-linejoin="round"/>
<polygon points="350.56,220.65 388.58,235.80 388.58,194.88 350.56,179.73" fill="url(#g11)" stroke="#707070" stroke-width="0.5" stroke-linejoin="round"/>
<polygon points="388.58,235.80 431.06,205.36 431.06,164.44 388.58,194.88" fill="url(#g12)" stroke="#707070" stroke-width="0.5" stroke-linejoin="round"/>
<polygon points="350.56,179.73 388.58,194.88 431.06,164.44 393.04,149.29" fill="#00bd97" stroke="#707070" stroke-width="0.5" stroke-linejoin="round"/>
<polygon points="398.09,239.59 436.11,254.74 436.11,195.49 398.09,180.34" fill="url(#g13)" stroke="#707070" stroke-width="0.5" stroke-linejoin="round"/>
<polygon points="436.11,254.74 478.59,224.30 478.59,165.05 436.11,195.49" fill="url(#g14)" stroke="#707070" stroke-width="0.5" stroke-linejoin="round"/>
<polygon points="398.09,180.34 436.11,195.49 478.59,165.05 440.57,149.90" fill="#e5ba44" stroke="#707070" stroke-width="0.5" stroke-linejoin="round"/>
<polygon points="445.62,258.53 483.64,273.68 483.64,257.75 445.62,242.60" fill="url(#g15)" stroke="#707070" stroke-width="0.5" stroke-linejoin="round"/>
<polygon points="483.64,273.68 526.12,243.24 526.12,227.31 483.64,257.75" fill="url(#g16)" stroke="#707070" stroke-width="0.5" stroke-linejoin="round"/>
<polygon points="445.62,242.60 483.64,257.75 526.12,227.31 488.10,212.16" fill="#0076e2" stroke="#707070" stroke-width="0.5" stroke-linejoin="round"/>
<polygon points="59.81,164.00 97.83,179.15 97.83,114.97 59.81,99.82" fill="url(#g17)" stroke="#707070" stroke-width="0.5" stroke-linejoin="round"/>
<polygon points="97.83,179.15 140.31,148.71 140.31,84.53 97.83,114.97" fill="url(#g18)" stroke="#707070" stroke-width="0.5" stroke-linejoin="round"/>
<polygon points="59.81,99.82 97.83,114.97 140.31,84.53 102.29,69.38" fill="#ffbb18" stroke="#707070" stroke-width="0.5" stroke-linejoin="round"/>
<polygon points="107.34,182.94 145.36,198.09 145.36,129.33 107.34,114.17" fill="url(#g19)" stroke="#707070" stroke-width="0.5" stroke-linejoin="round"/>
<polygon points="145.36,198.09 187.84,167.65 187.84,98.89 145.36,129.33" fill="url(#g20)" stroke="#707070" stroke-width="0.5" stroke-linejoin="round"/>
<polygon points="107.34,114.17 145.36,129.33 187.84,98.89 149.82,83.73" fill="#ffcf00" stroke="#707070" stroke-width="0.5" stroke-linejoin="round"/>
<polygon points="154.87,201.88 192.89,217.03 192.89,156.86 154.87,141.71" fill="url(#g21)" stroke="#707070" stroke-width="0.5" stroke-linejoin="round"/>
<polygon points="192.89,217.03 235.37,186.59 235.37,126.42 192.89,156.86" fill="url(#g22)" stroke="#707070" stroke-width="0.5" stroke-linejoin="round"/>
<polygon points="154.87,141.71 192.89,156.86 235.37,126.42 197.35,111.27" fill="#ecb940" stroke="#707070" stroke-width="0.5" stroke-linejoin="round"/>
<polygon points="202.40,220.81 240.42,235.97 240.42,157.47 202.40,142.31" fill="url(#g23)" stroke="#707070" stroke-width="0.5" stroke-linejoin="round"/>
<polygon points="240.42,235.97 282.90,205.53 282.90,127.03 240.42,157.47" fill="url(#g24)" stroke="#707070" stroke-width="0.5" stroke-linejoin="round"/>
<polygon points="202.40,142.31 240.42,157.47 282.90,127.03 244.88,111.87" fill="#f9fb00" stroke="#707070" stroke-width="0.5" stroke-linejoin="round"/>
<polygon points="249.93,239.75 287.95,254.91 287.95,223.85 249.93,208.70" fill="url(#g25)" stroke="#707070" stroke-width="0.5" stroke-linejoin="round"/>
<polygon points="287.95,254.91 330.43,224.47 330.43,193.41 287.95,223.85" fill="url(#g26)" stroke="#707070" stroke-width="0.5" stroke-linejoin="round"/>
<polygon points="249.93,208.70 287.95,223.85 330.43,193.41 292.41,178.26" fill="#00abc7" stroke="#707070" stroke-width="0.5" stroke-linejoin="round"/>
<polygon points="297.46,258.69 335.48,273.85 335.48,221.47 297.46,206.32" fill="url(#g27)" stroke="#707070" stroke-width="0.5" stroke-linejoin="round"/>
<polygon points="335.48,273.85 377.96,243.41 377.96,191.03 335.48,221.47" fill="url(#g28)" stroke="#707070" stroke-width="0.5" stroke-linejoin="round"/>
<polygon points="297.46,206.32 335.48,221.47 377.96,191.03 339.94,175.88" fill="#a4bf60" stroke="#707070" stroke-width="0.5" stroke-linejoin="round"/>
<polygon points="344.99,277.63 383.01,292.79 383.01,247.41 344.99,232.25" fill="url(#g29)" stroke="#707070" stroke-width="0.5" stroke-linejoin="round"/>
<polygon points="383.01,292.79 425.49,262.35 425.49,216.97 383.01,247.41" fill="url(#g30)" stroke="#707070" stroke-width="0.5" stroke-linejoin="round"/>
<polygon points="344.99,232.25 383.01,247.41 425.49,216.97 387.47,201.81" fill="#2bc17e" stroke="#707070" stroke-width="0.5" stroke-linejoin="round"/>
<polygon points="392.52,296.58 430.54,311.73 430.54,299.92 392.52,284.77" fill="url(#g31)" stroke="#707070" stroke-width="0.5" stroke-linejoin="round"/>
<polygon points="430.54,311.73 473.02,281.29 473.02,269.48 430.54,299.92" fill="url(#g32)" stroke="#707070" stroke-width="0.5" stroke-linejoin="round"/>
<polygon points="392.52,284.77 430.54,299.92 473.02,269.48 435.00,254.33" fill="#0066e7" stroke="#707070" stroke-width="0.5" stroke-linejoin="round"/>
<line x1="54.50" y1="167.80" x2="54.50" y2="76.12" stroke="#262626" stroke-width="0.68"/>
<line x1="54.50" y1="167.80" x2="425.23" y2="315.53" stroke="#262626" stroke-width="0.68"/>
<line x1="425.23" y1="315.53" x2="531.43" y2="239.43" stroke="#262626" stroke-width="0.68"/>
<line x1="73.51" y1="175.38" x2="66.03" y2="180.73" stroke="#262626" stroke-width="0.68"/>
<text x="60.33" y="203.13" text-anchor="end" font-size="17" fill="#262626" stroke="#262626">AOA</text>
<line x1="121.04" y1="194.32" x2="113.56" y2="199.67" stroke="#262626" stroke-width="0.68"/>
<text x="107.86" y="221.65" text-anchor="end" font-size="17" fill="#262626" stroke="#262626">BOA</text>
<line x1="168.57" y1="213.26" x2="161.09" y2="218.61" stroke="#262626" stroke-width="0.68"/>
<text x="155.39" y="240.17" text-anchor="end" font-size="17" fill="#262626" stroke="#262626">TSA</text>
<line x1="216.10" y1="232.20" x2="208.62" y2="237.55" stroke="#262626" stroke-width="0.68"/>
<text x="202.92" y="258.69" text-anchor="end" font-size="17" fill="#262626" stroke="#262626">SSA</text>
<line x1="263.63" y1="251.14" x2="256.15" y2="256.49" stroke="#262626" stroke-width="0.68"/>
<text x="250.45" y="277.21" text-anchor="end" font-size="17" fill="#262626" stroke="#262626">HHO</text>
<line x1="311.16" y1="270.08" x2="303.68" y2="275.43" stroke="#262626" stroke-width="0.68"/>
<text x="297.98" y="295.73" text-anchor="end" font-size="17" fill="#262626" stroke="#262626">SCA</text>
<line x1="358.69" y1="289.02" x2="351.21" y2="294.37" stroke="#262626" stroke-width="0.68"/>
<text x="345.51" y="314.25" text-anchor="end" font-size="17" fill="#262626" stroke="#262626">WOA</text>
<line x1="406.22" y1="307.96" x2="398.74" y2="313.31" stroke="#262626" stroke-width="0.68"/>
<text x="393.04" y="332.77" text-anchor="end" font-size="17" fill="#262626" stroke="#262626">ASFAOA</text>
<line x1="451.78" y1="296.51" x2="459.22" y2="299.47" stroke="#262626" stroke-width="0.68"/>
<text x="466.22" y="319.27" font-size="17" fill="#262626" stroke="#262626">Mean</text>
<line x1="504.88" y1="258.46" x2="512.32" y2="261.42" stroke="#262626" stroke-width="0.68"/>
<text x="519.32" y="281.22" font-size="17" fill="#262626" stroke="#262626">Std</text>
<line x1="54.50" y1="167.80" x2="45.21" y2="164.10" stroke="#262626" stroke-width="0.68"/>
<text x="39.30" y="168.80" text-anchor="end" font-size="17" fill="#262626" stroke="#262626">0</text>
<line x1="54.50" y1="110.50" x2="45.21" y2="106.80" stroke="#262626" stroke-width="0.68"/>
<text x="39.30" y="111.50" text-anchor="end" font-size="17" fill="#262626" stroke="#262626">2</text>
<text transform="translate(20.8,121.8) rotate(-90)" text-anchor="middle" font-size="18.6" fill="#262626" stroke="#262626">Friedman ranking</text>
<text x="96.60" y="64.75" font-size="14.4" fill="#000" stroke="#000">5.6</text>
<text x="147.40" y="77.10" font-size="14.4" fill="#000" stroke="#000">6</text>
<text x="195.00" y="105.30" font-size="14.4" fill="#000" stroke="#000">5.25</text>
<text x="242.50" y="105.90" font-size="14.4" fill="#000" stroke="#000">6.85</text>
<text x="289.40" y="172.30" font-size="14.4" fill="#000" stroke="#000">2.71</text>
<text x="337.60" y="169.00" font-size="14.4" fill="#000" stroke="#000">4.57</text>
<text x="385.00" y="195.70" font-size="14.4" fill="#000" stroke="#000">3.96</text>
<text x="432.70" y="247.70" font-size="14.4" fill="#000" stroke="#000">1.03</text>
<text x="156.20" y="35.30" font-size="14.4" fill="#000" stroke="#000">5.07</text>
<text x="205.20" y="61.40" font-size="14.4" fill="#000" stroke="#000">4.32</text>
<text x="255.90" y="59.60" font-size="14.4" fill="#000" stroke="#000">6.21</text>
<text x="301.80" y="67.70" font-size="14.4" fill="#000" stroke="#000">6.75</text>
<text x="345.10" y="118.90" font-size="14.4" fill="#000" stroke="#000">3.5</text>
<text x="391.00" y="136.40" font-size="14.4" fill="#000" stroke="#000">3.57</text>
<text x="442.00" y="134.60" font-size="14.4" fill="#000" stroke="#000">5.17</text>
<text x="490.60" y="198.90" font-size="14.4" fill="#000" stroke="#000">1.39</text>
</svg></body></html>
